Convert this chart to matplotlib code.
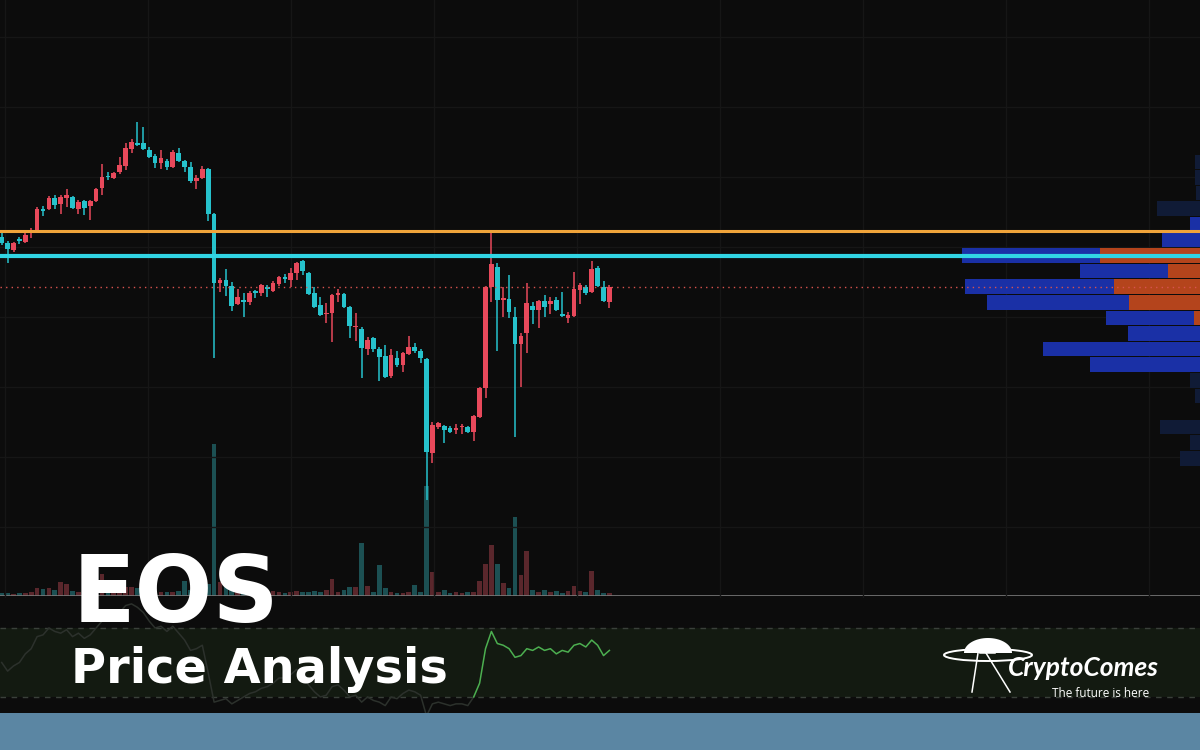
import matplotlib.pyplot as plt
from matplotlib.patches import Rectangle, Ellipse, Polygon
import numpy as np

# ---- candles (price units) ----
opens = [4.63, 4.57, 4.50, 4.61, 4.58, 4.67, 4.70, 4.91, 4.91, 5.02,
         4.96, 5.02, 5.03, 4.91, 4.99, 4.94, 4.99, 5.12, 5.24, 5.22,
         5.28, 5.34, 5.51, 5.57, 5.57, 5.50, 5.44, 5.37, 5.39, 5.33,
         5.47, 5.39, 5.33, 5.19, 5.22, 5.31, 4.86, 4.17, 4.20, 4.14,
         3.96, 4.00, 3.98, 4.09, 4.07, 4.13, 4.09, 4.16, 4.23, 4.20,
         4.27, 4.39, 4.27, 4.07, 3.95, 3.86, 3.87, 4.05, 4.06, 3.93,
         3.73, 3.71, 3.51, 3.62, 3.51, 3.44, 3.24, 3.42, 3.35, 3.46,
         3.53, 3.49, 3.41, 2.47, 2.73, 2.74, 2.72, 2.70, 2.73, 2.73,
         2.68, 2.83, 3.12, 4.13, 4.33, 4.00, 4.01, 3.83, 3.56, 3.67,
         3.94, 3.90, 3.99, 3.96, 4.00, 3.86, 3.82, 3.84, 4.10, 4.13,
         4.08, 4.32, 4.13, 3.98]
highs = [4.68, 4.59, 4.58, 4.63, 4.68, 4.72, 4.93, 4.94, 5.04, 5.05,
         5.05, 5.11, 5.04, 5.00, 5.00, 5.00, 5.12, 5.36, 5.28, 5.28,
         5.43, 5.57, 5.61, 5.78, 5.73, 5.53, 5.46, 5.50, 5.41, 5.50,
         5.52, 5.40, 5.38, 5.25, 5.34, 5.32, 4.87, 4.22, 4.31, 4.18,
         4.11, 4.07, 4.09, 4.10, 4.16, 4.15, 4.19, 4.24, 4.26, 4.32,
         4.38, 4.40, 4.28, 4.13, 4.03, 3.97, 4.06, 4.11, 4.07, 3.94,
         3.87, 3.73, 3.63, 3.63, 3.53, 3.55, 3.51, 3.49, 3.48, 3.64,
         3.57, 3.51, 3.42, 2.78, 2.78, 2.75, 2.74, 2.76, 2.76, 2.74,
         2.85, 3.13, 4.14, 4.68, 4.37, 4.13, 4.25, 3.93, 3.67, 4.17,
         3.98, 4.00, 4.05, 4.03, 4.03, 4.08, 3.88, 4.28, 4.17, 4.15,
         4.39, 4.34, 4.19, 4.15]
lows = [4.55, 4.37, 4.48, 4.56, 4.57, 4.62, 4.69, 4.84, 4.90, 4.91,
        4.86, 4.93, 4.91, 4.86, 4.85, 4.80, 4.98, 5.05, 5.20, 5.21,
        5.26, 5.30, 5.47, 5.54, 5.50, 5.42, 5.32, 5.31, 5.30, 5.32,
        5.38, 5.28, 5.17, 5.11, 5.21, 4.79, 3.42, 4.08, 4.04, 3.89,
        3.95, 3.83, 3.95, 4.02, 4.04, 4.03, 4.08, 4.14, 4.17, 4.13,
        4.20, 4.25, 4.05, 3.92, 3.84, 3.77, 3.58, 3.98, 3.92, 3.62,
        3.59, 3.22, 3.45, 3.48, 3.19, 3.22, 3.22, 3.33, 3.28, 3.45,
        3.47, 3.37, 2.00, 2.37, 2.71, 2.57, 2.67, 2.66, 2.66, 2.67,
        2.59, 2.82, 3.02, 3.98, 3.49, 3.83, 3.82, 2.63, 3.13, 3.47,
        3.76, 3.72, 3.83, 3.86, 3.89, 3.83, 3.77, 3.83, 3.96, 4.05,
        4.07, 4.13, 3.98, 3.92]
closes = [4.57, 4.51, 4.57, 4.59, 4.65, 4.70, 4.91, 4.89, 5.02, 4.95,
          5.03, 5.05, 4.92, 4.98, 4.92, 4.99, 5.11, 5.23, 5.23, 5.27,
          5.35, 5.52, 5.58, 5.55, 5.51, 5.43, 5.37, 5.42, 5.33, 5.48,
          5.39, 5.33, 5.19, 5.22, 5.31, 4.86, 4.17, 4.20, 4.14, 3.94,
          4.03, 3.98, 4.07, 4.07, 4.15, 4.11, 4.17, 4.23, 4.21, 4.27,
          4.37, 4.29, 4.06, 3.93, 3.85, 3.87, 4.05, 4.07, 3.93, 3.74,
          3.74, 3.52, 3.60, 3.51, 3.43, 3.23, 3.45, 3.35, 3.47, 3.53,
          3.49, 3.42, 2.48, 2.75, 2.77, 2.70, 2.68, 2.72, 2.74, 2.68,
          2.84, 3.12, 4.13, 4.36, 4.00, 4.02, 3.88, 3.56, 3.64, 3.97,
          3.90, 3.99, 3.93, 3.99, 3.90, 3.84, 3.85, 4.11, 4.15, 4.07,
          4.31, 4.14, 3.99, 4.13]
volumes = [3, 3, 2, 3, 3, 4, 8, 7, 8, 6,
           14, 12, 5, 4, 4, 4, 8, 22, 5, 4,
           6, 9, 9, 8, 4, 4, 4, 4, 4, 4,
           5, 15, 6, 4, 5, 12, 152, 14, 12, 10,
           6, 5, 5, 4, 5, 4, 5, 4, 3, 4,
           5, 4, 4, 5, 4, 6, 17, 4, 6, 9,
           9, 53, 10, 4, 31, 8, 4, 3, 3, 4,
           11, 4, 110, 24, 4, 6, 3, 4, 3, 4,
           4, 15, 32, 51, 32, 13, 8, 79, 21, 45,
           6, 4, 6, 4, 5, 3, 5, 10, 5, 4,
           25, 6, 3, 3]
rsi = [50, 45, 48, 50, 55, 58, 65, 66, 70, 68,
       67, 69, 65, 67, 64, 66, 70, 74, 75, 76,
       79, 83, 84, 82, 79, 74, 70, 71, 68, 71,
       67, 63, 57, 58, 60, 44, 27, 28, 29, 26,
       28, 30, 32, 33, 35, 36, 38, 41, 41, 43,
       46, 43, 37, 33, 30, 31, 36, 37, 34, 30,
       31, 27, 30, 28, 27, 25, 30, 29, 32, 34,
       33, 31, 19, 26, 27, 26, 25, 26, 26, 25,
       30, 38, 58, 68, 61, 60, 58, 53, 54, 58,
       57, 59, 57, 58, 55, 57, 56, 60, 61, 59,
       63, 60, 54, 57]

# ---- volume profile rows ----
vp_levels = [5.381, 5.225, 5.069, 4.913, 4.757, 4.601, 4.445, 4.289, 4.133, 3.977,
             3.821, 3.665, 3.509, 3.353, 3.197, 3.041, 2.885, 2.729, 2.573, 2.417]
vp_total = [5, 5, 4, 43, 10, 38, 238, 120, 235, 213,
            94, 72, 157, 110, 10, 5, 0, 40, 10, 20]
vp_down = [0, 0, 0, 0, 0, 0, 100, 32, 86, 71,
           6, 0, 0, 0, 0, 0, 0, 0, 0, 0]
vp_in_area = [False, False, False, False, True, True, True, True, True, True,
              True, True, True, True, False, False, False, False, False, False]

# key levels
resistance = 4.69
support = 4.44
last_price = 4.13

BG = '#0c0c0c'
UP = '#e8495b'
DOWN = '#26c2cc'

fig = plt.figure(figsize=(12, 7.5), dpi=100, facecolor=BG)

xlim = (-0.29, 203.1)

# volume pane
axv = fig.add_axes([0, 154 / 750, 1, 0.3], zorder=1)
axv.set_facecolor('none')
# price pane
ax = fig.add_axes([0, 152 / 750, 1, 598 / 750], zorder=2)
ax.set_facecolor('none')
# volume profile + key levels
axp = fig.add_axes([0, 152 / 750, 1, 598 / 750], zorder=3)
axp.set_facecolor('none')
# rsi pane
axr = fig.add_axes([0, 37 / 750, 1, 115 / 750], zorder=1)
axr.set_facecolor('none')

x = np.arange(len(opens))
o = np.array(opens)
c = np.array(closes)
up = c >= o
col = np.where(up, UP, DOWN)

# grid
ax.set_xlim(xlim)
ax.set_ylim(1.02, 7.0)
ax.set_xticks([0.56, 24.8, 49.0, 73.3, 97.5, 121.8, 146.0, 170.2, 194.5])
ax.set_yticks([6.63, 5.93, 5.23, 4.53, 3.83, 3.13, 2.43, 1.73])
ax.grid(True, color='#161616', lw=1)
ax.tick_params(length=0, labelbottom=False, labelleft=False)
for s in ax.spines.values():
    s.set_visible(False)

ax.vlines(x, lows, highs, colors=col, lw=1.1, zorder=3)
ax.bar(x, np.maximum(np.abs(c - o), 0.012), bottom=np.minimum(o, c), width=0.8,
       color=col, lw=0, zorder=4)

# volume
vcol = np.where(up, '#5a272c', '#1c5053')
axv.bar(x, volumes, width=0.8, color=vcol, lw=0)
axv.axhline(0, color='#7a7a7a', lw=1.2)
axv.set_xlim(xlim)
axv.set_ylim(0, 225)
axv.axis('off')

# volume profile (grows from right edge)
for lvl, tot, dn, ok in zip(vp_levels, vp_total, vp_down, vp_in_area):
    if ok:
        axp.barh(lvl, dn, height=0.145, color='#b4441c', lw=0)
        axp.barh(lvl, tot - dn, left=dn, height=0.145, color='#1a30a6', lw=0)
    else:
        axp.barh(lvl, tot, height=0.145, color='#101b36', lw=0)
axp.axhline(resistance, color='#f0a43a', lw=2.2, zorder=5)
axp.axhline(support, color='#31d5e4', lw=3, zorder=5)
axp.axhline(last_price, color='#d9534f', lw=1, ls=(0, (1, 3)), zorder=5)
axp.set_xlim(1200, 0)
axp.set_ylim(1.02, 7.0)
axp.axis('off')

# rsi
axr.axhspan(30, 70, color='#131a11', lw=0)
axr.axhline(70, color='#3a403a', lw=1, ls=(0, (4, 4)))
axr.axhline(30, color='#3a403a', lw=1, ls=(0, (4, 4)))
axr.plot(x[:81], rsi[:81], color='#2c312c', lw=1.1)
axr.plot(x[80:], rsi[80:], color='#4caf50', lw=1.1)
axr.set_xlim(xlim)
axr.set_ylim(20.7, 87.4)
axr.axis('off')

# overlay: titles, logo, bottom strip
axo = fig.add_axes([0, 0, 1, 1], zorder=10)
axo.set_xlim(0, 1200)
axo.set_ylim(750, 0)
axo.axis('off')
axo.add_patch(Rectangle((0, 713), 1200, 37, color='#5b86a3', lw=0))
axo.text(73, 622, 'EOS', fontsize=66, weight='bold', color='white',
         family='DejaVu Sans', va='baseline')
axo.text(71, 683, 'Price Analysis', fontsize=34.5, weight='bold', color='white',
         family='DejaVu Sans', va='baseline')

# logo
t = np.linspace(np.pi, 2 * np.pi, 40)
dome = np.column_stack([988 + 24 * np.cos(t), 653 + 15 * np.sin(t)])
axo.add_patch(Polygon(dome, closed=True, color='white', lw=0))
axo.add_patch(Ellipse((988, 655), 88, 12, fill=False, ec='white', lw=1.4))
axo.plot([978, 972], [653, 692], color='white', lw=1.1)
axo.plot([980, 995], [653, 653], color='white', lw=1.1)
axo.plot([986, 1010], [653, 692], color='white', lw=1.1)
axo.text(1008, 676, 'CryptoComes', fontsize=19, style='italic', weight='bold',
         color='white', family='Lato', va='baseline')
axo.text(1052, 697, 'The future is here', fontsize=8.5, color='white',
         family='Open Sans', va='baseline')

fig.savefig('out.png', dpi=100, facecolor=BG)
